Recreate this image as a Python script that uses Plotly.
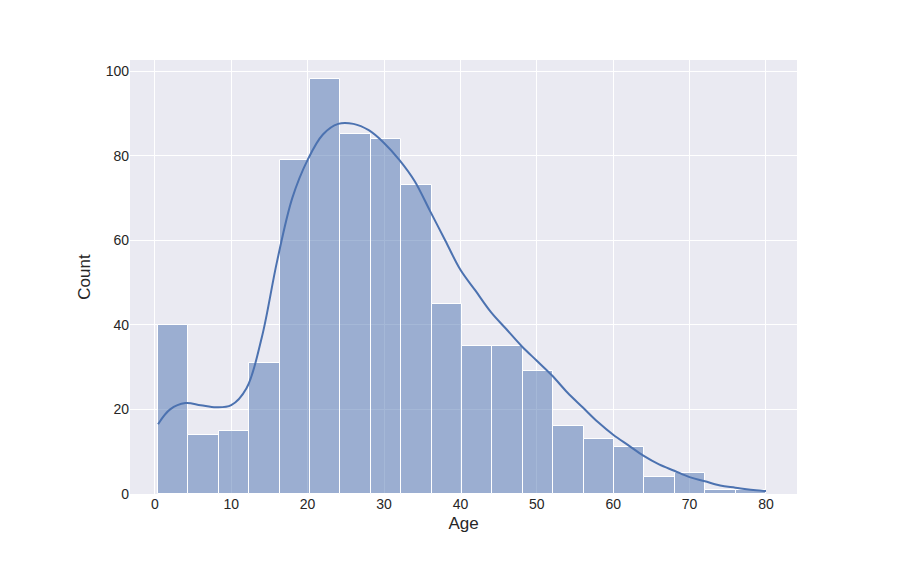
import numpy as np
import plotly.graph_objects as go

age_min, age_max = 0.42, 80.0
counts = [40, 14, 15, 31, 79, 98, 85, 84, 73, 45, 35, 35, 29, 16, 13, 11, 4, 5, 1, 1]
kde_x = [0.42, 2, 4, 6, 8, 10, 12, 14, 16, 18, 20, 22, 24, 26, 28, 30, 32, 34, 36, 38, 40,
         42, 44, 46, 48, 50, 52, 54, 56, 58, 60, 62, 64, 66, 68, 70, 72, 74, 76, 78, 80]
kde_y = [16.5, 20, 21.5, 21, 20.5, 21, 25, 37, 55, 70, 79, 85, 87.5, 87.5, 86, 83, 79, 74, 67, 60, 53,
         48, 43, 39, 35, 31.5, 28, 24, 20.5, 17, 14, 11.5, 9, 7, 5.5, 4, 3, 2, 1.5, 1, 0.7]
x_ticks = [0, 10, 20, 30, 40, 50, 60, 70, 80]
y_ticks = [0, 20, 40, 60, 80, 100]

edges = np.linspace(age_min, age_max, len(counts) + 1)
centers = (edges[:-1] + edges[1:]) / 2
width = edges[1] - edges[0]

fig = go.Figure()
fig.add_bar(x=centers, y=counts, width=width,
            marker=dict(color="rgba(76,114,176,0.5)", line=dict(color="white", width=1)))
fig.add_scatter(x=kde_x, y=kde_y, mode="lines", line=dict(color="#4C72B0", width=2, shape="spline"))
fig.update_layout(
    width=922, height=564, showlegend=False, bargap=0,
    paper_bgcolor="white", plot_bgcolor="#EAEAF2",
    margin=dict(l=122, r=133, t=52, b=78),
    font=dict(family="Liberation Sans, Arial", size=14, color="#262626"),
    xaxis=dict(range=[-3.25, 84.06], tickvals=x_ticks, gridcolor="white", gridwidth=1.3,
               zeroline=False, showline=False, title=dict(text="Age", standoff=6), ticks=""),
    yaxis=dict(range=[0, 102.6], tickvals=y_ticks, gridcolor="white", gridwidth=1.3,
               zeroline=False, showline=False, title=dict(text="Count", standoff=10), ticks=""),
)
fig.write_html("out.html")
